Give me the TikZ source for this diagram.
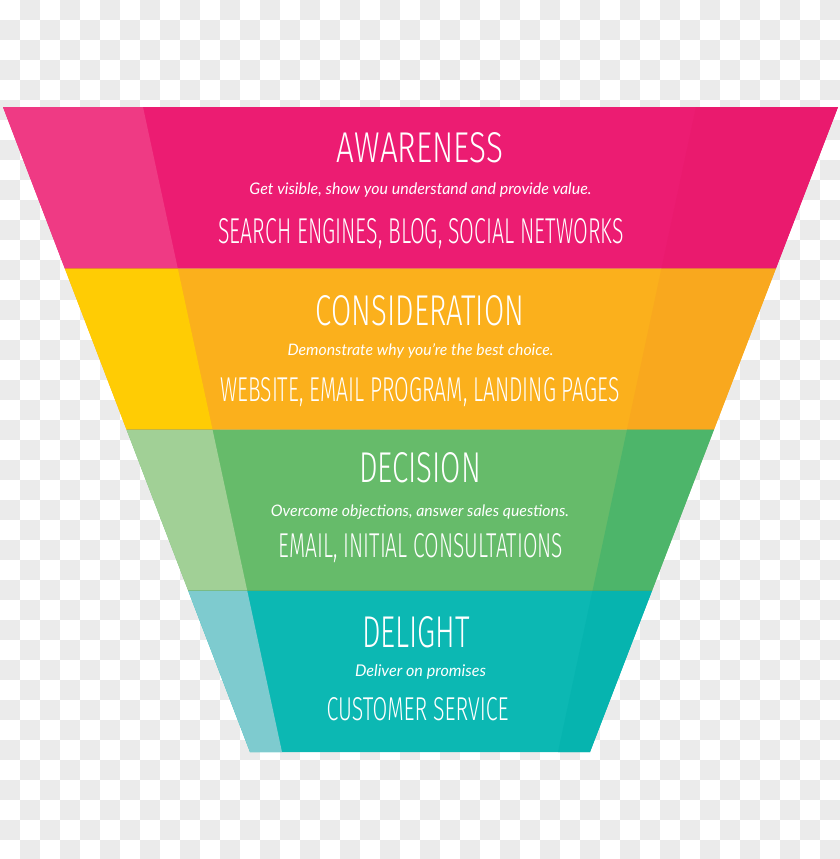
\documentclass[tikz,border=0pt]{standalone}
\usepackage{fontspec}
\usepackage{graphicx}
\usetikzlibrary{calc}
\newfontfamily\titlefont{Fira Sans Light}
\newfontfamily\subfont{Lato}
\definecolor{checkgray}{HTML}{EBEBEB}
\definecolor{pinkM}{HTML}{EC1C72}
\definecolor{pinkL}{HTML}{EF3A84}
\definecolor{pinkR}{HTML}{EA1A6E}
\definecolor{orM}{HTML}{FBB01C}
\definecolor{orL}{HTML}{FFCC04}
\definecolor{orR}{HTML}{F9A81E}
\definecolor{grM}{HTML}{66BB6A}
\definecolor{grL}{HTML}{A1D096}
\definecolor{grR}{HTML}{4DB56A}
\definecolor{tlM}{HTML}{0CB8B3}
\definecolor{tlL}{HTML}{7ECBCF}
\definecolor{tlR}{HTML}{06B4AF}
\newcommand\fitcap[3]{\resizebox{#1pt}{#2pt}{\titlefont #3}}
\newcommand\fitsub[2]{\resizebox{#1pt}{!}{\subfont\itshape\fontsize{15}{18}\selectfont #2}}
\tikzset{
  lbl/.style={text=white, inner sep=0pt, outer sep=0pt, anchor=base},
  seam/.style={line width=1pt}
}
\begin{document}
\begin{tikzpicture}[x=1pt,y=-1pt]
\useasboundingbox (0,0) rectangle (840,859);
\clip (0,0) rectangle (840,859);
\fill[white] (0,0) rectangle (840,859);
\foreach \j in {0,...,42}{
  \pgfmathtruncatemacro\s{mod(\j+1,2)}
  \foreach \i in {0,...,20}{
    \fill[checkgray] (40*\i+20*\s,20*\j) rectangle ++(20,20);
  }
}
% funnel guide lines
\coordinate (OL0) at (3,107);   \coordinate (OL4) at (250,752);
\coordinate (SL0) at (143,107); \coordinate (SL4) at (282,752);
\coordinate (SR0) at (696,107); \coordinate (SR4) at (558,752);
\coordinate (OR0) at (838,107); \coordinate (OR4) at (590,752);
\foreach \k/\t in {1/0.25,2/0.5,3/0.75}{
  \coordinate (OL\k) at ($(OL0)!\t!(OL4)$);
  \coordinate (SL\k) at ($(SL0)!\t!(SL4)$);
  \coordinate (SR\k) at ($(SR0)!\t!(SR4)$);
  \coordinate (OR\k) at ($(OR0)!\t!(OR4)$);
}
\foreach \k/\n/\c in {0/1/pink,1/2/or,2/3/gr,3/4/tl}{
  \fill[\c M] (OL\k) -- (OR\k) -- (OR\n) -- (OL\n) -- cycle;
  \fill[\c L] (OL\k) -- (SL\k) -- (SL\n) -- (OL\n) -- cycle;
  \fill[\c R] (SR\k) -- (OR\k) -- (OR\n) -- (SR\n) -- cycle;
}
\foreach \k/\c in {1/pinkM,2/orM,3/grM}{
  \draw[seam, \c!85!black, opacity=0.35] (OL\k) -- (OR\k);
}
% texts
\node[lbl] (t1) at (420,162) {\fitcap{166}{30}{AWARENESS}};
\node[lbl] (s1) at (420.5,194) {\fitsub{342}{Get visible, show you understand and provide value.}};
\node[lbl] (i1) at (421,243) {\fitcap{405}{25}{SEARCH ENGINES, BLOG, SOCIAL NETWORKS}};
\node[lbl] (t2) at (420,325) {\fitcap{208}{30}{CONSIDERATION}};
\node[lbl] (s2) at (420.5,355) {\fitsub{266}{Demonstrate why you’re the best choice.}};
\node[lbl] (i2) at (420,401) {\fitcap{399}{24}{WEBSITE, EMAIL PROGRAM, LANDING PAGES}};
\node[lbl] (t3) at (420,482) {\fitcap{122}{30}{DECISION}};
\node[lbl] (s3) at (420,516) {\fitsub{298}{Overcome objections, answer sales questions.}};
\node[lbl] (i3) at (421,557) {\fitcap{284}{24}{EMAIL, INITIAL CONSULTATIONS}};
\node[lbl] (t4) at (416,647) {\fitcap{108}{31}{DELIGHT}};
\node[lbl] (s4) at (420.5,676) {\fitsub{131}{Deliver on promises}};
\node[lbl] (i4) at (417.5,720) {\fitcap{182}{23}{CUSTOMER SERVICE}};
\end{tikzpicture}
\end{document}
